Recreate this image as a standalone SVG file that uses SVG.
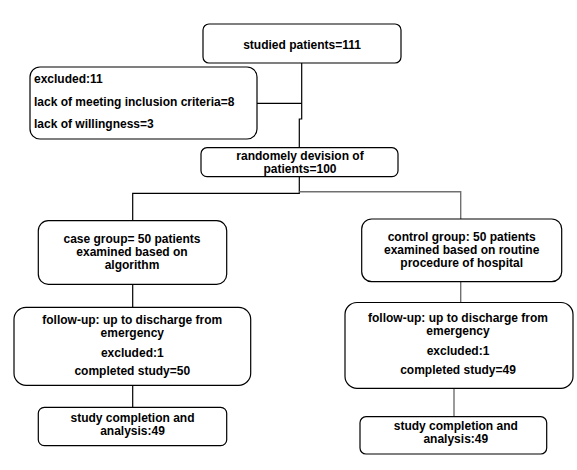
<svg xmlns="http://www.w3.org/2000/svg" width="577" height="470" viewBox="0 0 577 470">
<style>
.box{fill:#fff;stroke:#000;stroke-width:1.2}
.t{font-family:"Liberation Sans",Arial,sans-serif;font-size:12px;font-weight:bold;fill:#000}
.c{text-anchor:middle}
.ln{fill:none;stroke:#000;stroke-width:1.2}
.gr{fill:none;stroke:#707070;stroke-width:1.4}
</style>
<rect width="577" height="470" fill="#fff"/>
<g id="connectors">
<polyline class="ln" points="301.7,63 301.7,119 299.3,119 299.3,148"/>
<line class="ln" x1="257" y1="103.3" x2="301.7" y2="103.3"/>
<polyline class="ln" points="299.3,176.7 299.3,193.3 132.7,193.3 132.7,220.7"/>
<polyline class="gr" points="299.3,191.7 460.7,191.7 460.7,219"/>
<line class="ln" x1="132.7" y1="284.3" x2="132.7" y2="307.3"/>
<line class="gr" x1="460.7" y1="281.7" x2="460.7" y2="302.5"/>
<line class="ln" x1="132.7" y1="385.3" x2="132.7" y2="407.3"/>
<line class="gr" x1="454" y1="388.3" x2="454" y2="416.7"/>
</g>
<g id="studied">
<rect class="box" x="203" y="24" width="198" height="39" rx="6"/>
<text class="t c" x="302" y="49">studied patients=111</text>
</g>
<g id="excluded">
<rect class="box" x="30" y="67" width="227" height="72" rx="10"/>
<text class="t" x="34" y="83">excluded:11</text>
<text class="t" x="34" y="106">lack of meeting inclusion criteria=8</text>
<text class="t" x="34" y="128">lack of willingness=3</text>
</g>
<g id="randomly">
<rect class="box" x="201" y="147.7" width="197" height="29" rx="6"/>
<text class="t c" x="300" y="159.8">randomely devision of</text>
<text class="t c" x="300" y="172.8">patients=100</text>
</g>
<g id="case">
<rect class="box" x="38.3" y="220.7" width="188.4" height="63.6" rx="10"/>
<text class="t c" x="132" y="243">case group= 50 patients</text>
<text class="t c" x="132" y="256">examined based on</text>
<text class="t c" x="132" y="269">algorithm</text>
</g>
<g id="control">
<rect class="box" x="361.7" y="219" width="200" height="62.7" rx="10"/>
<text class="t c" x="461.7" y="241">control group: 50 patients</text>
<text class="t c" x="461.7" y="254">examined based on routine</text>
<text class="t c" x="461.7" y="267">procedure of hospital</text>
</g>
<g id="followup-case">
<rect class="box" x="14" y="307.3" width="236.7" height="78" rx="12"/>
<text class="t c" x="132.3" y="323.5">follow-up: up to discharge from</text>
<text class="t c" x="132.3" y="336.5">emergency</text>
<text class="t c" x="132.3" y="357">excluded:1</text>
<text class="t c" x="132.3" y="375">completed study=50</text>
</g>
<g id="followup-control">
<rect class="box" x="345" y="302.5" width="228" height="85.8" rx="12"/>
<text class="t c" x="458" y="322">follow-up: up to discharge from</text>
<text class="t c" x="458" y="335">emergency</text>
<text class="t c" x="458" y="355">excluded:1</text>
<text class="t c" x="458" y="374">completed study=49</text>
</g>
<g id="analysis-case">
<rect class="box" x="38.3" y="407.3" width="188.4" height="38.4" rx="6"/>
<text class="t c" x="132.5" y="422.2">study completion and</text>
<text class="t c" x="132.5" y="435.2">analysis:49</text>
</g>
<g id="analysis-control">
<rect class="box" x="360" y="416.7" width="186.7" height="37.3" rx="6"/>
<text class="t c" x="455.8" y="430.2">study completion and</text>
<text class="t c" x="455.8" y="443.2">analysis:49</text>
</g>
</svg>
